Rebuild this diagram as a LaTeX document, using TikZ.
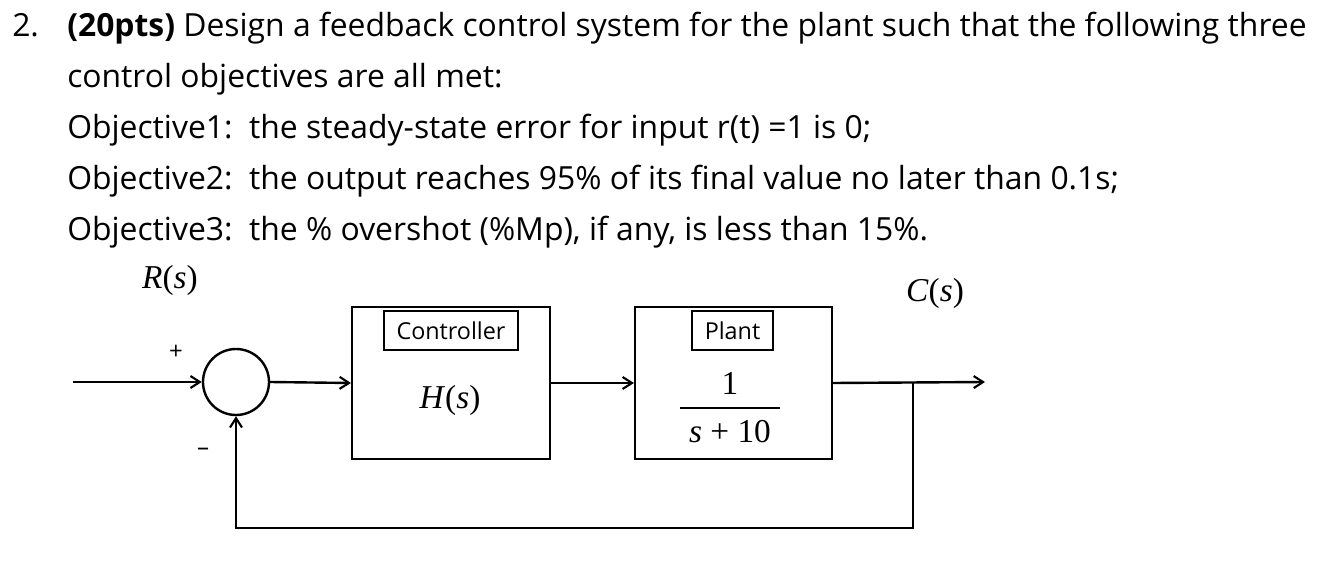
\documentclass[tikz,border=0pt]{standalone}
\usepackage{fontspec}
\setmainfont{Open Sans}
\newfontfamily\tnr{Liberation Serif}
\usetikzlibrary{arrows.meta}
\begin{document}
\begin{tikzpicture}[x=0.75pt,y=-0.75pt,
  txt/.style={anchor=base west,inner sep=0pt,font=\fontsize{23.9}{28}\selectfont},
  blk/.style={draw,line width=1.6pt},
  lbl/.style={draw,line width=1.3pt,font=\fontsize{17.5}{20}\selectfont,inner sep=0pt},
  wire/.style={line width=1.8pt},
  arr/.style={wire,-{Straight Barb[length=7pt,width=9pt,line width=1.6pt]}},
  mth/.style={font=\fontsize{25}{29}\selectfont\tnr}]
\useasboundingbox (0,0) rectangle (1334,566);
\node[txt] (n2) at (12,37) {2.};
\node[txt] (l1) at (67,37) {\textbf{(20pts)} Design a feedback control system for the plant such that the following three};
\node[txt] (l2) at (67,88) {control objectives are all met:};
\node[txt] (l3) at (67,139) {Objective1:\ \ the steady-state error for input r(t) =1 is 0;};
\node[txt] (l4) at (67,190) {Objective2:\ \ the output reaches 95\% of its final value no later than 0.1s;};
\node[txt] (l5) at (67,241) {Objective3:\ \ the \% overshot (\%Mp), if any, is less than 15\%.};
\node[mth] (R) at (170,280) {\textit{R}(\textit{s})};
\node[mth] (C) at (935,293) {\textit{C}(\textit{s})};
\node[draw,circle,line width=1.8pt,minimum size=66pt*0.75,inner sep=0pt] (sum) at (236,382) {};
\coordinate (in) at (73,382);
\node[font=\fontsize{18}{20}\selectfont] (plus) at (176,352) {+};
\node[font=\fontsize{18}{20}\selectfont] (minus) at (203,452) {--};
\node[blk,minimum width=198*0.75pt,minimum height=152*0.75pt,inner sep=0pt] (ctrl) at (451,383) {};
\node[lbl,minimum width=134*0.75pt,minimum height=39*0.75pt] (cl) at (451,330.5) {Controller};
\node[mth] (H) at (450,400) {\textit{H}(\textit{s})};
\node[blk,minimum width=197*0.75pt,minimum height=152*0.75pt,inner sep=0pt] (plant) at (733.5,383) {};
\node[lbl,minimum width=81*0.75pt,minimum height=39*0.75pt] (pl) at (732.5,330.5) {Plant};
\node[mth] (num) at (730,383) {1};
\draw[line width=1.1pt] (680,408) -- (780,408);
\node[mth] (den) at (730,432) {\textit{s} + 10};
\coordinate (out) at (985,382);
\coordinate (br) at (913,382);
\coordinate (b1) at (913,528);
\coordinate (b2) at (236,528);
\draw[arr] (in) -- (sum.west);
\draw[arr] (sum.east) -- (ctrl.west);
\draw[arr] (ctrl.east) -- (plant.west);
\draw[arr] (plant.east) -- (out);
\draw[arr] (br) -- (b1) -- (b2) -- (sum.south);
\end{tikzpicture}
\end{document}
